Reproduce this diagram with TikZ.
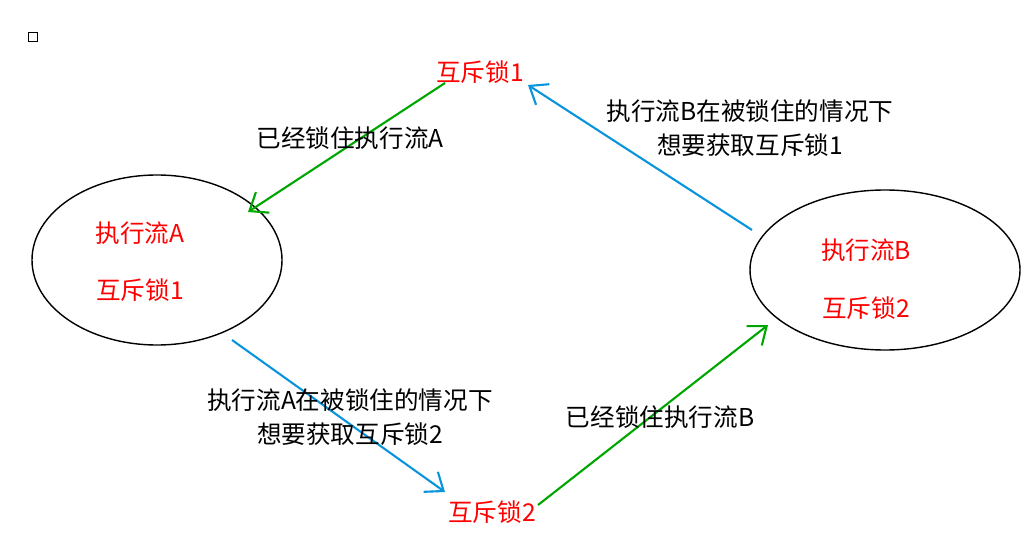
\documentclass[tikz,border=0pt]{standalone}
\usepackage{fontspec}
\setmainfont{Noto Sans CJK SC}
\usetikzlibrary{arrows.meta,positioning}

\begin{document}
\begin{tikzpicture}[x=0.02cm,y=-0.02cm,
    txt/.style={font=\fontsize{14}{19}\selectfont, align=center, inner sep=1pt},
    lock/.style={txt, text=red},
    grab/.style={-{Straight Barb[length=9pt,width=14pt]}, line width=1.2pt, draw=green!65!black},
    want/.style={-{Straight Barb[length=9pt,width=14pt]}, line width=1.2pt, draw=cyan!80!blue}
]
    \useasboundingbox (0,0) rectangle (1033,540);
    \node[draw, minimum size=5pt, inner sep=0pt] (dot) at (33,37) {};

    % Ellipses
    \draw[thick] (157,260) ellipse [x radius=125, y radius=85];
    \draw[thick] (885,270) ellipse [x radius=135, y radius=80];
    \node[lock] (fa) at (140,233) {执行流A};
    \node[lock] (la) at (140,290) {互斥锁1};
    \node[lock] (fb) at (866,250) {执行流B};
    \node[lock] (lb) at (866,308) {互斥锁2};

    % Locks
    \node[lock] (top) at (480,72) {互斥锁1};
    \node[lock] (bot) at (492,512) {互斥锁2};

    % Arrow ends
    \coordinate (g1s) at (445,83);  \coordinate (g1e) at (248,212);
    \coordinate (w1s) at (752,230); \coordinate (w1e) at (528,85);
    \coordinate (w2s) at (232,340); \coordinate (w2e) at (445,492);
    \coordinate (g2s) at (538,505); \coordinate (g2e) at (768,325);

    % Arrows
    \draw[grab] (g1s) -- (g1e);
    \draw[want] (w1s) -- (w1e);
    \draw[want] (w2s) -- (w2e);
    \draw[grab] (g2s) -- (g2e);

    % Labels
    \node[txt] (ga) at (350,138) {已经锁住执行流A};
    \node[txt] (wb) at (750,128) {执行流B在被锁住的情况下\\想要获取互斥锁1};
    \node[txt] (wa) at (350,417) {执行流A在被锁住的情况下\\想要获取互斥锁2};
    \node[txt] (gb) at (660,417) {已经锁住执行流B};
\end{tikzpicture}
\end{document}
